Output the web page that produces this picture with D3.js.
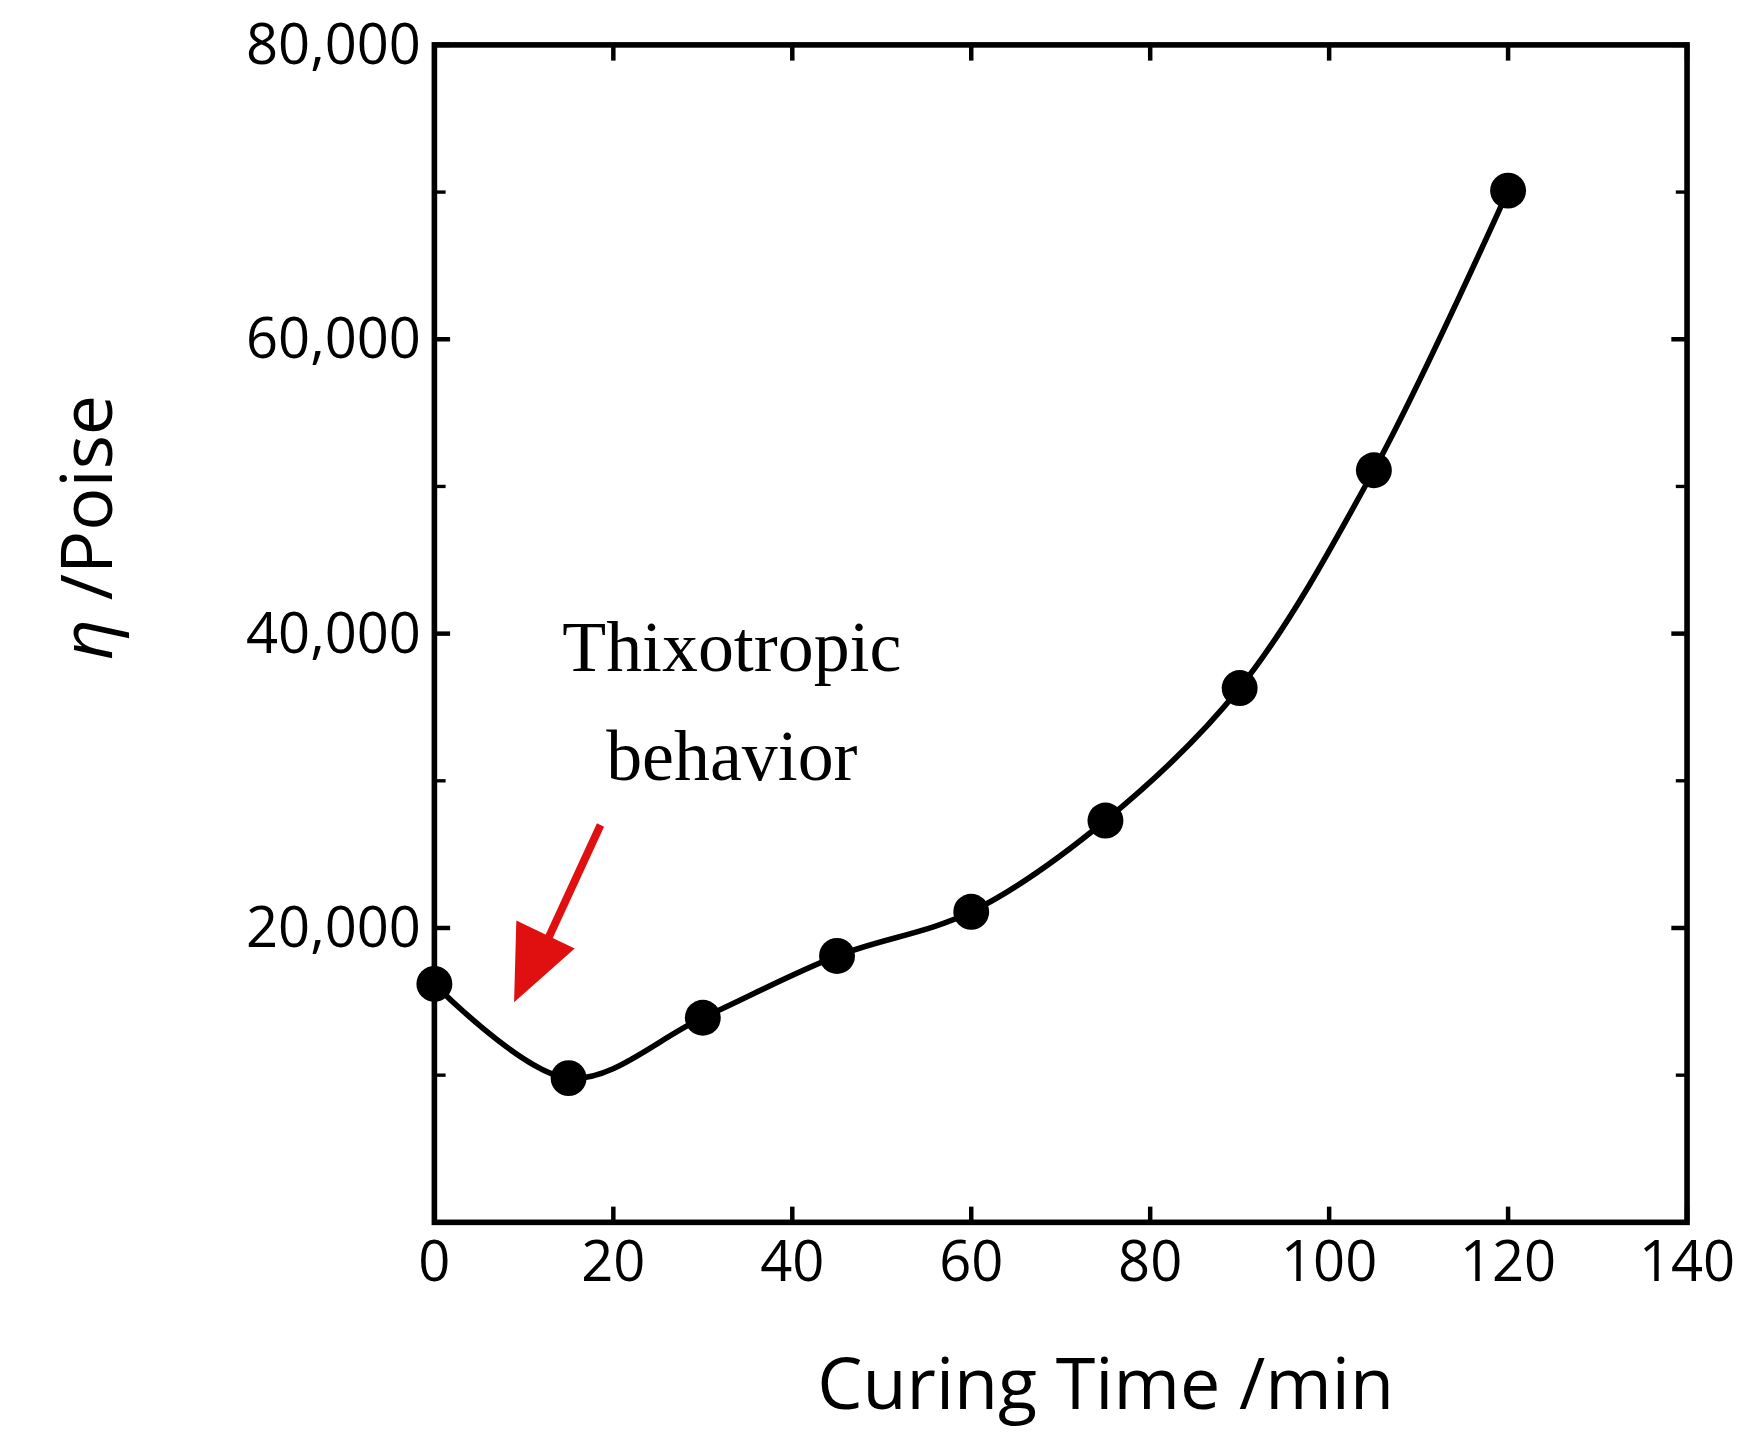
<!DOCTYPE html><html><head><meta charset="utf-8">
<script src="https://cdn.jsdelivr.net/npm/d3@7"></script>
<style>body{margin:0;background:#fff}</style></head><body>
<svg id="c" width="1760" height="1434"></svg>
<script>
const times=[0,15,30,45,60,75,90,105,120];
const viscosity=[16200,9800,13900,18100,21100,27300,36300,51100,70100];
const xTicks=[0,20,40,60,80,100,120,140];
const yTicks=[20000,40000,60000,80000];
const yMinor=[10000,30000,50000,70000];
const svg=d3.select("#c");
const k=1760/1568;
const L=387,R=1503,T=40,B=1089;
const x=d3.scaleLinear().domain([0,140]).range([L,R]);
const y=d3.scaleLinear().domain([0,80000]).range([B,T]);
const g=svg.append("g").attr("transform",`scale(${k})`);
g.append("rect").attr("x",L).attr("y",T).attr("width",R-L).attr("height",B-T).attr("fill","none").attr("stroke","#000").attr("stroke-width",5);
const font="Open Sans, sans-serif";
yTicks.forEach(v=>{[[L,L+14],[R,R-14]].forEach(([a,b])=>g.append("line").attr("x1",a).attr("x2",b).attr("y1",y(v)).attr("y2",y(v)).attr("stroke","#000").attr("stroke-width",4));});
yMinor.forEach(v=>{[[L,L+10],[R,R-10]].forEach(([a,b])=>g.append("line").attr("x1",a).attr("x2",b).attr("y1",y(v)).attr("y2",y(v)).attr("stroke","#000").attr("stroke-width",3));});
xTicks.forEach(v=>{g.append("line").attr("x1",x(v)).attr("x2",x(v)).attr("y1",B).attr("y2",B-14).attr("stroke","#000").attr("stroke-width",4);
 g.append("line").attr("x1",x(v)).attr("x2",x(v)).attr("y1",T).attr("y2",T+14).attr("stroke","#000").attr("stroke-width",4);
 g.append("text").attr("x",x(v)).attr("y",B+52).attr("text-anchor","middle").attr("font-family",font).attr("font-size",50).text(v);});
yTicks.forEach(v=>g.append("text").attr("x",L-12).attr("y",y(v)+17).attr("text-anchor","end").attr("font-family",font).attr("font-size",50).text(d3.format(",")(v)));
g.append("text").attr("x",985).attr("y",1255).attr("text-anchor","middle").attr("font-family",font).attr("font-size",64).text("Curing Time /min");
const yl=g.append("text").attr("transform","translate(100,470) rotate(-90)").attr("text-anchor","middle").attr("font-family",font).attr("font-size",64);
yl.append("tspan").attr("font-style","italic").text("η");yl.append("tspan").text(" /Poise");
const pts=times.map((t,i)=>[x(t),y(viscosity[i])]);
g.append("path").attr("d",d3.line().curve(d3.curveCatmullRom.alpha(0.5))(pts)).attr("fill","none").attr("stroke","#000").attr("stroke-width",5);
g.selectAll("circle.p").data(pts).join("circle").attr("cx",d=>d[0]).attr("cy",d=>d[1]).attr("r",16).attr("fill","#000");
const serif="Liberation Serif, serif";
g.append("text").attr("x",652).attr("y",598).attr("text-anchor","middle").attr("font-family",serif).attr("font-size",64).text("Thixotropic");
g.append("text").attr("x",652).attr("y",695).attr("text-anchor","middle").attr("font-family",serif).attr("font-size",64).text("behavior");
g.append("line").attr("x1",535).attr("y1",735).attr("x2",488).attr("y2",837).attr("stroke","#e01010").attr("stroke-width",7);
g.append("path").attr("d","M458,893 L460,820 L512,845 Z").attr("fill","#e01010");
</script></body></html>
